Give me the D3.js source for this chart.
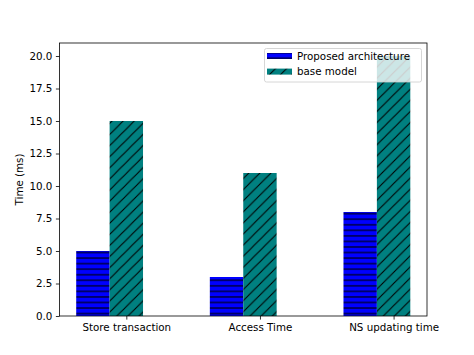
<!doctype html>
<html lang="en">
<head>
<meta charset="UTF-8" />
<title>Time (ms)</title>
<script src="https://cdn.jsdelivr.net/npm/d3@7"></script>
<style>
  body { margin: 0; background: #fff; }
  text { font-family: "DejaVu Sans", sans-serif; }
</style>
</head>
<body>
<svg id="chart" width="474" height="355"></svg>
<script>
const categories = ["Store transaction", "Access Time", "NS updating time"];
const proposed = [5, 3, 8];
const baseModel = [15, 11, 20];
const seriesNames = ["Proposed architecture", "base model"];
const yTicks = [0, 2.5, 5, 7.5, 10, 12.5, 15, 17.5, 20];

const W = 474, H = 355;
const m = { left: 59.5, right: 427, top: 43, bottom: 316 };
const barW = 0.25;
const fs = 10.3;

const svg = d3.select("#chart");

// hatch patterns
const defs = svg.append("defs");
const hs = 5.55; // horizontal hatch spacing
const hp = defs.append("pattern").attr("id", "hatchH")
  .attr("patternUnits", "userSpaceOnUse")
  .attr("width", 10).attr("height", hs);
hp.append("rect").attr("width", 10).attr("height", hs).attr("fill", "#0000ff");
hp.append("line").attr("x1", 0).attr("x2", 10).attr("y1", hs / 2).attr("y2", hs / 2)
  .attr("stroke", "#000").attr("stroke-width", 1.1);

const ds = 11.1; // diagonal hatch spacing
const dp = defs.append("pattern").attr("id", "hatchD")
  .attr("patternUnits", "userSpaceOnUse")
  .attr("width", ds).attr("height", ds);
dp.append("rect").attr("width", ds).attr("height", ds).attr("fill", "#008080");
dp.append("path")
  .attr("d", `M0,${ds} L${ds},0 M${-ds / 2},${ds / 2} L${ds / 2},${-ds / 2} M${ds / 2},${ds * 1.5} L${ds * 1.5},${ds / 2}`)
  .attr("stroke", "#000").attr("stroke-width", 1.1);

const x = d3.scaleLinear().domain([-0.25, 2.5]).range([m.left, m.right]);
const y = d3.scaleLinear().domain([0, 21]).range([m.bottom, m.top]);

// bars
svg.append("g").selectAll("rect").data(proposed).join("rect")
  .attr("x", (d, i) => x(i - barW / 2))
  .attr("width", (d, i) => x(i + barW / 2) - x(i - barW / 2))
  .attr("y", d => y(d))
  .attr("height", d => y(0) - y(d))
  .attr("fill", "url(#hatchH)");

svg.append("g").selectAll("rect").data(baseModel).join("rect")
  .attr("x", (d, i) => x(i + barW / 2))
  .attr("width", (d, i) => x(i + barW * 1.5) - x(i + barW / 2))
  .attr("y", d => y(d))
  .attr("height", d => y(0) - y(d))
  .attr("fill", "url(#hatchD)");

// axes
const yAxis = svg.append("g").attr("transform", `translate(${m.left},0)`)
  .call(d3.axisLeft(y).tickValues(yTicks).tickFormat(d3.format(".1f")).tickSize(3.6).tickPadding(3.6));
const xAxis = svg.append("g").attr("transform", `translate(0,${m.bottom})`)
  .call(d3.axisBottom(x).tickValues(categories.map((c, i) => i + barW)).tickFormat((d, i) => categories[i]).tickSize(3.6).tickPadding(3.6));
[yAxis, xAxis].forEach(a => {
  a.select(".domain").remove();
  a.selectAll("line").attr("stroke", "#000").attr("stroke-width", 0.8);
  a.selectAll("text").attr("font-size", fs).attr("fill", "#000").style("font-family", "DejaVu Sans");
});

// spines
svg.append("rect")
  .attr("x", m.left).attr("y", m.top)
  .attr("width", m.right - m.left).attr("height", m.bottom - m.top)
  .attr("fill", "none").attr("stroke", "#000").attr("stroke-width", 0.8);

// y label
svg.append("text")
  .attr("transform", `translate(23,${(m.top + m.bottom) / 2}) rotate(-90)`)
  .attr("text-anchor", "middle")
  .attr("font-size", fs)
  .text("Time (ms)");

// legend
const lg = svg.append("g");
lg.append("rect")
  .attr("x", 264.5).attr("y", 48.5).attr("width", 157).attr("height", 33.5)
  .attr("rx", 2).attr("fill", "#fff").attr("fill-opacity", 0.8)
  .attr("stroke", "#cccccc").attr("stroke-width", 0.8);
const fills = ["url(#hatchH)", "url(#hatchD)"];
seriesNames.forEach((name, i) => {
  const cy = 56 + i * 15.6;
  lg.append("rect").attr("x", 267).attr("y", cy - 3).attr("width", 25).attr("height", 6)
    .attr("fill", fills[i]);
  lg.append("text").attr("x", 297).attr("y", cy).attr("dy", "0.36em")
    .attr("font-size", fs).text(name);
});
</script>
</body>
</html>
